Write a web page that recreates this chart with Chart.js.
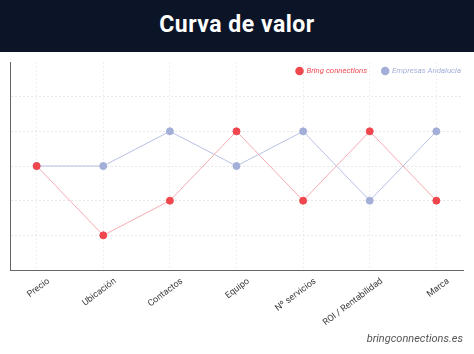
<!DOCTYPE html>
<html><head><meta charset="utf-8">
<script src="https://cdn.jsdelivr.net/npm/chart.js@4/dist/chart.umd.min.js"></script>
<style>
html,body{margin:0;padding:0;background:#fff;width:474px;height:354px;overflow:hidden;}
#title{position:absolute;left:0;top:0;width:474px;height:52px;background:#0c1427;color:#fff;font-family:Roboto,sans-serif;font-weight:700;font-size:23px;letter-spacing:0.5px;text-align:center;line-height:50px;}
#wrap{position:absolute;left:0;top:52px;width:474px;height:302px;}
#footer{position:absolute;right:11px;top:332px;font-family:Roboto,sans-serif;font-style:italic;font-size:11px;color:#555;}
</style></head><body>
<div id="title">Curva de valor</div>
<div id="wrap"><canvas id="c"></canvas></div>
<div id="footer">bringconnections.es</div>
<script>
const categories = ["Precio","Ubicación","Contactos","Equipo","Nº servicios","ROI / Rentabilidad","Marca"];
const seriesNames = ["Bring connections","Empresas Andalucia"];
const bringValues = [3,1,2,4,2,4,2];
const andaluciaValues = [3,3,4,3,4,2,4];

const toPts = vals => vals.map((v,i)=>({x:i,y:v}));
const legendRow = {
  id:'legendRow',
  beforeUpdate(chart){ if(chart.legend){ chart.legend.isHorizontal = () => true; } },
  beforeDraw(chart){
    const lg = chart.legend, a = chart.chartArea;
    if(!lg) return;
    lg.left = a.left + 13; lg.right = a.right + 13;
    lg.top = a.top - 10; lg.bottom = a.bottom - 10;
  }
};
new Chart(document.getElementById('c'),{
  type:'line',
  data:{datasets:[
    {label:seriesNames[0],data:toPts(bringValues),borderColor:'#f5abb0',backgroundColor:'#f0474f',pointBackgroundColor:'#f0474f',pointBorderColor:'#f0474f',pointRadius:3.5,pointHoverRadius:3.5,borderWidth:1,tension:0},
    {label:seriesNames[1],data:toPts(andaluciaValues),borderColor:'#b7c0e2',backgroundColor:'#a3afd8',pointBackgroundColor:'#a3afd8',pointBorderColor:'#a3afd8',pointRadius:3.5,pointHoverRadius:3.5,borderWidth:1,tension:0}
  ]},
  plugins:[legendRow],
  options:{
    responsive:true,maintainAspectRatio:false,animation:false,
    layout:{padding:{left:10,right:11,top:10,bottom:0}},
    plugins:{
      tooltip:{enabled:false},
      legend:{position:'chartArea',align:'end',
        labels:{usePointStyle:true,pointStyle:'circle',boxWidth:6,boxHeight:6,padding:15,
          font:{family:'Roboto',size:7.8,style:'italic'},
          generateLabels:(chart)=>chart.data.datasets.map((d,i)=>({text:d.label,fillStyle:d.pointBackgroundColor,strokeStyle:d.pointBackgroundColor,fontColor:d.pointBackgroundColor,lineWidth:0,pointStyle:'circle',datasetIndex:i,hidden:false}))
        }}
    },
    scales:{
      x:{type:'linear',min:-0.4,max:6.4,
        afterBuildTicks:s=>{s.ticks=categories.map((_,i)=>({value:i}));},
        afterFit:s=>{s.height=84;},
        border:{display:true,color:'#666',width:1,dash:[2,2]},
        grid:{color:'rgba(0,0,0,0.06)',drawTicks:false,lineWidth:1},
        ticks:{autoSkip:false,minRotation:37,maxRotation:37,labelOffset:12,padding:6,color:'#3a3a3a',font:{family:'Roboto',size:9},
          callback:(v)=>categories[v]}
      },
      y:{min:0,max:6,
        afterFit:s=>{s.width=0;},
        grid:{drawTicks:false,color:c=>(c.tick.value>0&&c.tick.value<6)?'rgba(0,0,0,0.09)':'rgba(0,0,0,0)'},
        border:{display:true,color:'#666',width:1,dash:[2,2]},
        ticks:{display:false,stepSize:1}
      }
    }
  }
});
</script>
</body></html>
